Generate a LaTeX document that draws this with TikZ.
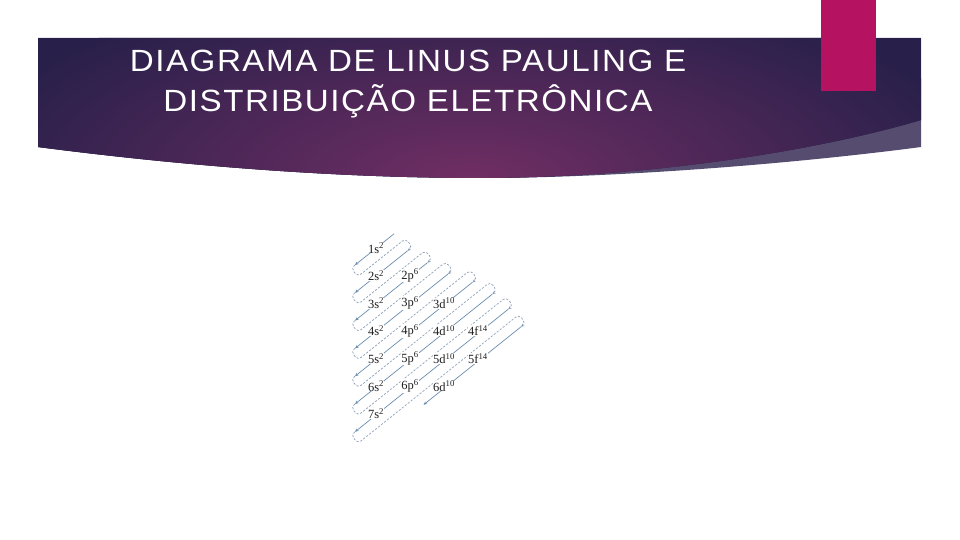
\documentclass[tikz,border=0pt]{standalone}
\usepackage{fontspec}
\setmainfont{Liberation Serif}
\newfontfamily\titlefont[FakeStretch=1.08,LetterSpace=5]{Liberation Sans}
\usetikzlibrary{arrows.meta,positioning}

\definecolor{bannerdark}{RGB}{40,32,74}
\definecolor{bannerglow}{RGB}{112,46,100}
\definecolor{bannergrey}{RGB}{86,76,112}
\definecolor{accent}{RGB}{181,18,98}
\definecolor{diagline}{RGB}{105,140,175}
\definecolor{diagdash}{RGB}{135,155,180}
\definecolor{orbtext}{RGB}{30,30,30}

\begin{document}
\begin{tikzpicture}[x=1pt,y=-1pt,
    title/.style={text=white,font=\titlefont\fontsize{30.7}{36}\selectfont,inner sep=0pt,anchor=base},
    orb/.style={text=orbtext,font=\fontsize{12.5}{14}\selectfont,inner sep=0.3pt,fill=white,anchor=center},
    diag/.style={draw=diagline,line width=0.7pt,-{Stealth[length=3.6pt,width=3pt]}},
    back/.style={draw=diagdash,line width=0.65pt,dash pattern=on 2.2pt off 1.6pt,rounded corners=4pt,
      -{Stealth[length=3.4pt,width=2.8pt]}}]
  \useasboundingbox (0,0) rectangle (960,540);
  \fill[white] (0,0) rectangle (960,540);

  % banner
  \fill[bannergrey] (38,38) -- (921,38) -- (921,147) .. controls (800,163) and (620,178) .. (480,178)
    .. controls (350,178) and (200,168) .. (38,147) -- cycle;
  \begin{scope}
    \clip (38,38) -- (921,38) -- (921,120) .. controls (820,150) and (650,178) .. (480,178)
      .. controls (350,178) and (200,168) .. (38,147) -- cycle;
    \fill[bannerdark] (38,38) rectangle (921,180);
    \shade[inner color=bannerglow,outer color=bannerdark] (470,178) ellipse [x radius=520,y radius=200];
  \end{scope}
  \fill[accent] (821,0) rectangle (876,91);

  \node[title] (line1) at (408,72) {DIAGRAMA DE LINUS PAULING E};
  \node[title] (line2) at ([yshift=-40pt]line1.base) {DISTRIBUIÇÃO ELETRÔNICA};

  % diagonals
  \begin{scope}[shift={(355,265)},rotate=38.66]
    \foreach \k/\tp/\bt in {1/50/0,2/50/-17.4,3/58/-34.7,4/67/-52.1,5/81/-69.5,6/89/-86.9,7/92/-104.2,8/91/-33.8}
    {
      \coordinate (t\k) at (\tp,{21.71*(\k-1)});
      \coordinate (b\k) at (\bt,{21.71*(\k-1)});
      \draw[diag] (t\k) -- (b\k);
    }
    \foreach \k/\nt in {1/50,2/58,3/67,4/81,5/89,6/92,7/91}
    {
      \pgfmathtruncatemacro\nk{\k+1}
      \draw[back] (b\k) -- ++(-5,0) -- ++(0,10.86) -- ({\nt+6},{21.71*(\k-1)+10.86}) -- ++(0,10.86) -- (t\nk);
    }
  \end{scope}

  % sublevels
  \foreach \l/\c/\e in {s/0/2,p/1/6,d/2/10,f/3/14}
    \foreach \n in {1,...,7}
    {
      \pgfmathtruncatemacro\ok{(\n>\c) && (\n+\c<9) && !(\c==1 && \n==7)}
      \ifnum\ok=1
        \node[orb] (\l\n) at ({376+34*\c},{248+27.6*(\n-1)}) {\n\l\textsuperscript{\e}};
      \fi
    }
\end{tikzpicture}
\end{document}
